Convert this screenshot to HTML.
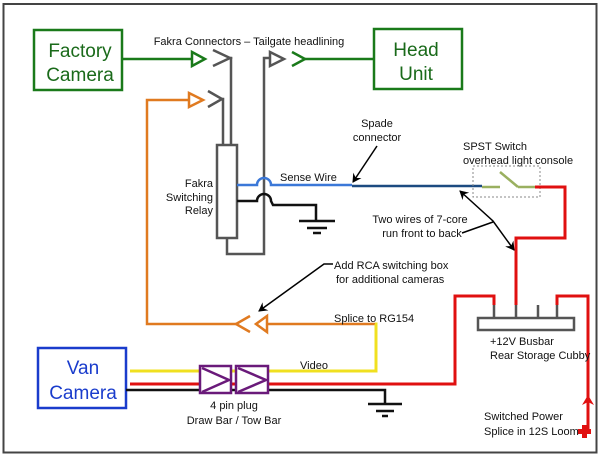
<!DOCTYPE html>
<html><head><meta charset="utf-8"><style>
html,body{margin:0;padding:0;background:#fff;}
svg{display:block;}
text{font-family:"Liberation Sans",sans-serif;fill:#111;}
</style></head><body>
<svg width="600" height="457" viewBox="0 0 600 457" xmlns="http://www.w3.org/2000/svg">
<defs>
<marker id="ah" markerWidth="10" markerHeight="10" refX="8" refY="5" orient="auto" markerUnits="userSpaceOnUse"><path d="M0,0 L9,5 L0,10 L3,5 Z" fill="#000"/></marker>
<marker id="ahs" markerWidth="10" markerHeight="10" refX="8" refY="5" orient="auto-start-reverse" markerUnits="userSpaceOnUse"><path d="M0,0 L9,5 L0,10 L3,5 Z" fill="#000"/></marker>
<marker id="ahr" markerWidth="12" markerHeight="12" refX="9" refY="6" orient="auto" markerUnits="userSpaceOnUse"><path d="M0,0 L10,6 L0,12 L3,6 Z" fill="#e01010"/></marker>
</defs>
<rect x="3.5" y="4" width="593" height="448.5" fill="none" stroke="#444" stroke-width="2"/>

<rect x="34" y="30" width="88" height="60" fill="none" stroke="#1a7a1a" stroke-width="2.5"/>
<text x="80" y="57" font-size="19" text-anchor="middle" style="fill:#1a6a1a">Factory</text>
<text x="80" y="81" font-size="19" text-anchor="middle" style="fill:#1a6a1a">Camera</text>
<rect x="374" y="29" width="88" height="60" fill="none" stroke="#1a7a1a" stroke-width="2.5"/>
<text x="416" y="56" font-size="19" text-anchor="middle" style="fill:#1a6a1a">Head</text>
<text x="416" y="80" font-size="19" text-anchor="middle" style="fill:#1a6a1a">Unit</text>

<text x="249" y="45" font-size="11" text-anchor="middle">Fakra Connectors – Tailgate headlining</text>

<g stroke="#1a7a1a" stroke-width="2.5" fill="none">
<line x1="122" y1="59" x2="192" y2="59"/>
<path d="M192,52 L205,59 L192,66 Z"/>
<path d="M292,52 L305,59 L292,66"/>
<line x1="305" y1="59" x2="374" y2="59"/>
</g>
<g stroke="#555" stroke-width="2.5" fill="none">
<path d="M213,50 L230,58 L213,66"/>
<path d="M230,58 L231,58 L231,145"/>
<path d="M208,91 L222,99 L208,107"/>
<path d="M222,99 L223,99 L223,145"/>
<rect x="217" y="145" width="20" height="93" fill="#fff"/>
<path d="M227,238 L227,254 L264,254 L264,58 L270,58"/>
<path d="M270,52 L284,59 L270,66 Z"/>
<rect x="478" y="318" width="96" height="12" fill="#fff"/>
<line x1="516" y1="305" x2="516" y2="318"/>
<line x1="538" y1="305" x2="538" y2="318"/>
<line x1="494" y1="305" x2="494" y2="318"/>
<line x1="557" y1="305" x2="557" y2="318"/>
</g>

<text x="213" y="187" font-size="11" text-anchor="end">Fakra</text>
<text x="213" y="201" font-size="11" text-anchor="end">Switching</text>
<text x="213" y="214" font-size="11" text-anchor="end">Relay</text>

<path d="M237,185 L257,185 A7,7 0 0 1 271,185 L352,185" stroke="#3b78d8" stroke-width="2.5" fill="none"/>
<line x1="352" y1="186" x2="482" y2="186" stroke="#1c4a80" stroke-width="2.5"/>
<text x="280" y="181" font-size="11">Sense Wire</text>
<path d="M237,201 L257,201 A7,7 0 0 1 271,201 L273,205 L316,205 L316,221" stroke="#111" stroke-width="2.5" fill="none"/>
<g stroke="#111" stroke-width="2.5">
<line x1="299" y1="221" x2="335" y2="221"/>
<line x1="307" y1="228" x2="327" y2="228"/>
<line x1="313" y1="233" x2="321" y2="233"/>
</g>

<text x="377" y="127" font-size="11" text-anchor="middle">Spade</text>
<text x="377" y="141" font-size="11" text-anchor="middle">connector</text>
<line x1="377" y1="146" x2="353" y2="182" stroke="#000" stroke-width="1.5" marker-end="url(#ah)"/>

<text x="463" y="150" font-size="11">SPST Switch</text>
<text x="463" y="164" font-size="11">overhead light console</text>
<rect x="473" y="166" width="67" height="31" fill="none" stroke="#888" stroke-width="1" stroke-dasharray="2,2"/>
<g stroke="#9ab060" stroke-width="2.5">
<line x1="482" y1="187" x2="500" y2="187"/>
<line x1="500" y1="172" x2="518" y2="187"/>
<line x1="518" y1="187" x2="535" y2="187"/>
</g>

<g stroke="#e01010" stroke-width="3" fill="none">
<path d="M535,187 L565,187 L565,238 L516,238 L516,305"/>
<path d="M130,384 L455,384 L455,296 L494,296 L494,305"/>
<path d="M557,305 L557,296 L588,296 L588,432"/>
</g>
<line x1="588" y1="420" x2="588" y2="396" stroke="#e01010" stroke-width="3" marker-end="url(#ahr)"/>
<path d="M578,429 h4 v-4 h5 v4 h4 v5 h-4 v4 h-5 v-4 h-4 Z" fill="#e01010"/>

<text x="420" y="223" font-size="11" text-anchor="middle">Two wires of 7-core</text>
<text x="422" y="237" font-size="11" text-anchor="middle">run front to back</text>
<path d="M460,191 L493,221 L514,250" stroke="#000" stroke-width="1.5" fill="none" marker-start="url(#ahs)" marker-end="url(#ah)"/>
<line x1="462" y1="233" x2="493" y2="222" stroke="#000" stroke-width="1.5"/>

<text x="490" y="345" font-size="11">+12V Busbar</text>
<text x="490" y="359" font-size="11">Rear Storage Cubby</text>
<text x="484" y="420" font-size="11">Switched Power</text>
<text x="484" y="435" font-size="11">Splice in 12S Loom</text>

<g stroke="#e07a20" stroke-width="2.5" fill="none">
<path d="M190,100 L147,100 L147,324 L236,324"/>
<path d="M189,93 L203,100 L189,107 Z"/>
<path d="M250,316 L236,324 L250,332"/>
<path d="M267,316 L256,324 L267,332 Z"/>
<path d="M267,324 L375,324"/>
</g>
<text x="334" y="322" font-size="11">Splice to RG154</text>
<text x="334" y="269" font-size="11">Add RCA switching box</text>
<text x="336" y="283" font-size="11">for additional cameras</text>
<path d="M333,264 L324,264 L259,311" stroke="#000" stroke-width="1.5" fill="none" marker-end="url(#ah)"/>

<path d="M375,324 L376,324 L376,371 L130,371" stroke="#f0e020" stroke-width="3" fill="none"/>
<text x="300" y="369" font-size="11">Video</text>

<rect x="38" y="348" width="88" height="60" fill="none" stroke="#1a3ccc" stroke-width="2.5"/>
<text x="83" y="374" font-size="19" text-anchor="middle" style="fill:#1a3ccc">Van</text>
<text x="83" y="399" font-size="19" text-anchor="middle" style="fill:#1a3ccc">Camera</text>

<path d="M126,390 L385,390 L385,404" stroke="#111" stroke-width="2.5" fill="none"/>
<g stroke="#111" stroke-width="2.5">
<line x1="368" y1="404" x2="402" y2="404"/>
<line x1="376" y1="411" x2="394" y2="411"/>
<line x1="382" y1="416" x2="388" y2="416"/>
</g>

<g stroke="#6a1a7a" stroke-width="2.5" fill="#fff">
<rect x="200" y="366" width="31" height="27"/>
<rect x="236" y="366" width="32" height="27"/>
</g>
<g stroke="#6a1a7a" stroke-width="2.5" fill="none">
<path d="M202,368 L229,380 L202,392"/>
<path d="M238,368 L266,380 L238,392"/>
</g>
<text x="234" y="409" font-size="11" text-anchor="middle">4 pin plug</text>
<text x="234" y="424" font-size="11" text-anchor="middle">Draw Bar / Tow Bar</text>
</svg>
</body></html>
